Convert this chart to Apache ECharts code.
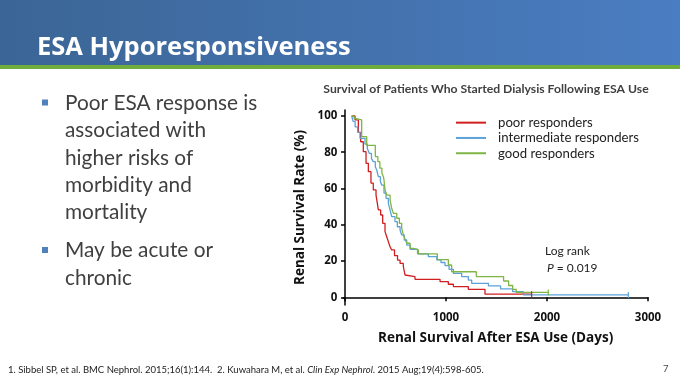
<!DOCTYPE html>
<html><head><meta charset="utf-8">
<script src="https://cdn.jsdelivr.net/npm/echarts@6/dist/echarts.min.js"></script>
<style>html,body{margin:0;padding:0;background:#fff}#c{width:680px;height:383px}</style>
</head><body><div id="c"></div>
<script>
const seriesNames = ['poor responders','intermediate responders','good responders'];
const poorDays = [66, 99, 132, 155, 181, 208, 231, 257, 280, 307, 320, 330, 353, 373, 396, 413, 429, 446, 462, 490, 520, 545, 577, 584, 594, 611, 693, 941, 1023, 1073, 1221, 1386, 1848];
const poorSurv = [100, 97.8, 91, 85.8, 80.3, 73.9, 69.3, 63, 59.2, 56.4, 51.8, 48.2, 45.4, 40.8, 36.2, 33.4, 30.7, 27.9, 26.1, 23, 20.5, 18.7, 17.3, 15.1, 12.3, 11.4, 9.9, 8.6, 7.2, 5.9, 4.4, 1.7, 1.7];
const interDays = [66, 80, 100, 125, 148, 198, 221, 240, 262, 280, 300, 314, 330, 350, 363, 386, 406, 429, 446, 462, 495, 518, 545, 561, 587, 611, 644, 718, 825, 908, 950, 990, 1030, 1073, 1155, 1221, 1254, 1420, 1540, 1660, 1766, 2805];
const interSurv = [100, 97, 94, 91, 87.7, 84.5, 82, 79.4, 76.5, 74.8, 72, 70.2, 66.5, 64, 61.9, 57.4, 54.6, 51.8, 48.2, 44.5, 41.7, 38.9, 37.1, 34.4, 31.6, 28.8, 26.5, 24, 22.4, 20.6, 19.2, 17.5, 15.4, 13.2, 11.4, 9.5, 7.7, 6.3, 4.6, 3.1, 1.3, 1.3];
const goodDays = [66, 90, 110, 165, 215, 300, 325, 345, 365, 380, 386, 396, 413, 446, 462, 479, 512, 538, 561, 578, 595, 611, 644, 676, 726, 914, 1023, 1056, 1300, 1570, 1620, 1660, 1695, 2013];
const goodSurv = [100, 98.5, 97.8, 88.6, 83.8, 77.6, 74.8, 71.2, 68.5, 66.5, 64.7, 59.2, 56.4, 53.7, 49.1, 46.3, 43.6, 40.8, 38, 34.4, 32, 29.8, 27, 26.1, 24, 20.8, 17.8, 14.1, 11.4, 9, 6.5, 4.4, 2.7, 2.7];
const xTicks = [0, 1000, 2000, 3000];
const yTicks = [0, 20, 40, 60, 80, 100];
const bulletLines1 = ['Poor ESA response is','associated with','higher risks of','morbidity and','mortality'];
const bulletLines2 = ['May be acute or','chronic'];

const colors = ['#d11f1f', '#5ba2d9', '#7fb544'];
function build(days, surv, i) {
  const d = days.map((x, k) => [x, surv[k]]);
  const last = d.length - 1;
  return {
    name: seriesNames[i], type: 'line', step: 'end', symbol: 'none', showSymbol: true,
    silent: true, animation: false,
    lineStyle: { color: colors[i], width: 1.3 }, itemStyle: { color: colors[i] },
    data: d.map((v, k) => k === last ? { value: v, symbol: 'rect', symbolSize: [1.2, 6] } : { value: v })
  };
}
const chart = echarts.init(document.getElementById('c'), null, { renderer: 'canvas' });
const font = 'Lato, "Liberation Sans", sans-serif';
const fontO = '"Open Sans", "Liberation Sans", sans-serif';
const graphics = [
  { type: 'rect', shape: { x: 0, y: 0, width: 680, height: 65 },
    style: { fill: new echarts.graphic.LinearGradient(0, 0, 1, 0, [{ offset: 0, color: '#3b6595' }, { offset: 1, color: '#4a7dc2' }]) } },
  { type: 'rect', shape: { x: 0, y: 65, width: 680, height: 4 }, style: { fill: '#6fae3c' } },
  { type: 'text', x: 37, y: 48, style: { text: 'ESA Hyporesponsiveness', fill: '#fff', font: 'bold 25.5px ' + fontO, verticalAlign: 'middle' } },
  { type: 'rect', shape: { x: 42, y: 99.5, width: 6, height: 6 }, style: { fill: '#4f81bd' } },
  { type: 'rect', shape: { x: 42, y: 247, width: 6, height: 6 }, style: { fill: '#4f81bd' } },
  { type: 'text', left: 8, top: 365, style: { rich: { n: { font: '9.5px ' + font, fill: '#222' }, i: { font: 'italic 9.5px ' + font, fill: '#222' } },
    text: '{n|1. Sibbel SP, et al. BMC Nephrol. 2015;16(1):144.  2. Kuwahara M, et al. }{i|Clin Exp Nephrol}{n|. 2015 Aug;19(4):598-605.}' } },
  { type: 'text', x: 663, y: 369, style: { text: '7', font: '9.5px ' + font, fill: '#444', verticalAlign: 'middle' } },
  { type: 'text', x: 486, y: 89, style: { text: 'Survival of Patients Who Started Dialysis Following ESA Use', font: 'bold 12.2px ' + font, fill: '#404040', align: 'center', verticalAlign: 'middle' } },
  { type: 'text', x: 545, y: 251, style: { text: 'Log rank', font: '12px ' + font, fill: '#222', verticalAlign: 'middle' } },
  { type: 'text', x: 547, y: 268, style: { rich: { i: { font: 'italic 12px ' + font, fill: '#222' }, n: { font: '12px ' + font, fill: '#222' } }, text: '{i|P}{n| = 0.019}', verticalAlign: 'middle' } }
];
bulletLines1.forEach((t, k) => graphics.push({ type: 'text', x: 65, y: 103.3 + k * 27.3, style: { text: t, font: '20.8px ' + font, fill: '#404040', verticalAlign: 'middle' } }));
bulletLines2.forEach((t, k) => graphics.push({ type: 'text', x: 65, y: 250.5 + k * 27.3, style: { text: t, font: '20.8px ' + font, fill: '#404040', verticalAlign: 'middle' } }));

chart.setOption({
  animation: false,
  grid: { left: 343.3, right: 32, top: 110, bottom: 78, containLabel: false },
  legend: {
    orient: 'vertical', left: 456, top: 115, padding: 0, icon: 'rect', itemWidth: 30, itemHeight: 2, itemGap: 0,
    data: seriesNames,
    textStyle: { fontFamily: font, fontSize: 13.2, color: '#222', lineHeight: 15.3, padding: [0, 0, 0, 7] },
    selectedMode: false
  },
  xAxis: {
    type: 'value', min: -17, max: 3000,
    name: 'Renal Survival After ESA Use (Days)', nameLocation: 'middle', nameGap: 26,
    nameTextStyle: { fontFamily: fontO, fontWeight: 'bold', fontSize: 13.5, color: '#111' },
    axisLine: { show: true, lineStyle: { color: '#000', width: 1.5 } },
    axisTick: { show: true, length: 4, lineStyle: { color: '#000', width: 1.5 }, customValues: xTicks },
    axisLabel: { customValues: xTicks, formatter: v => String(v), fontFamily: fontO, fontWeight: 'bold', fontSize: 11.5, color: '#111', margin: 7 },
    splitLine: { show: false }
  },
  yAxis: {
    type: 'value', min: -4.25, max: 103.3,
    name: 'Renal Survival Rate (%)', nameLocation: 'middle', nameGap: 36, nameRotate: 90,
    nameTextStyle: { fontFamily: fontO, fontWeight: 'bold', fontSize: 13.5, color: '#111' },
    axisLine: { show: true, lineStyle: { color: '#000', width: 1.5 } },
    axisTick: { show: true, length: 4, lineStyle: { color: '#000', width: 1.5 }, customValues: yTicks },
    axisLabel: { customValues: yTicks, formatter: v => String(v), fontFamily: fontO, fontWeight: 'bold', fontSize: 11.5, color: '#111', margin: 6 },
    splitLine: { show: false }
  },
  series: [build(poorDays, poorSurv, 0), build(interDays, interSurv, 1), build(goodDays, goodSurv, 2)],
  graphic: graphics
});
</script></body></html>
